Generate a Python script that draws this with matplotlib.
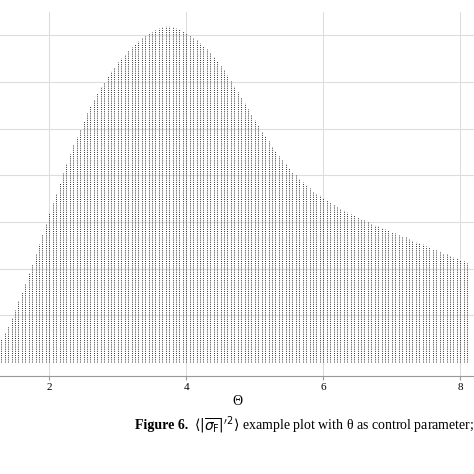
import numpy as np
import matplotlib
matplotlib.use("Agg")
import matplotlib.pyplot as plt

theta = np.round(np.arange(1.30, 8.1001, 0.05), 2)
value = [0.5,0.62,0.78,0.95,1.12,1.3,1.5,1.7,1.9,2.1,2.32,2.53,2.75,2.97,3.2,
         3.4,3.62,3.83,4.05,4.25,4.45,4.65,4.83,5.0,5.17,5.33,5.48,5.62,5.76,5.89,6.01,6.12,6.23,6.33,6.42,
         6.51,6.6,6.68,6.75,6.82,6.88,6.94,6.99,7.04,7.08,7.12,7.15,7.18,
         7.19,7.19,7.18,7.16,7.13,7.1,7.06,7.01,6.96,6.9,6.84,6.77,6.7,6.62,6.54,
         6.45,6.35,6.25,6.14,6.03,5.91,5.79,5.67,5.55,5.43,
         5.31,5.19,5.07,4.95,4.84,4.73,4.62,4.52,4.42,4.33,4.24,4.16,4.08,4.0,3.93,3.86,3.79,3.73,3.67,3.62,
         3.57,3.52,3.47,3.42,3.38,3.34,3.3,3.26,3.22,3.18,3.14,3.11,3.07,3.04,3.0,2.97,2.94,2.91,2.88,2.85,
         2.82,2.79,2.76,2.73,2.7,2.67,2.64,2.61,2.58,2.55,2.52,2.49,2.46,2.43,2.4,2.37,2.34,2.31,2.28,2.25,2.22,2.19,2.16,2.13]
xticks = [2, 4, 6, 8]

fig = plt.figure(figsize=(4.74, 4.74), dpi=100)
ax = fig.add_axes([0, 98/474, 1, 364/474])
ax.set_xlim(1.28, 8.2)
ax.set_ylim(-0.3, 7.5)
ax.set_xticks(xticks)
ax.set_yticks(range(1, 8))
ax.set_yticklabels([])
ax.grid(True, color="#dddddd", lw=0.8)
ax.set_axisbelow(True)
for s in ["top", "right", "left"]:
    ax.spines[s].set_visible(False)
ax.spines["bottom"].set_color("#999999")
ax.tick_params(axis="y", length=0)
ax.tick_params(axis="x", length=3, color="#999999", labelsize=8, pad=2)
for lbl in ax.get_xticklabels():
    lbl.set_fontfamily("Liberation Serif")

ax.vlines(theta, 0, value, colors="#333333", linestyles=(0, (1, 1.2)), lw=0.7)

ax.set_xlabel("Θ", fontfamily="Liberation Serif", fontsize=10, labelpad=2)

fig.text(0.285, 0.103, "Figure 6.", fontweight="bold", fontsize=10, fontfamily="Liberation Serif", va="center")
fig.text(0.41, 0.103, r"$\langle|\overline{\sigma_{\rm F}}|'^{2}\rangle$ example plot with θ as control parameter; ξ = 3; μ = 1",
         fontsize=10, fontfamily="Liberation Serif", va="center")
fig.savefig("out.png", dpi=100)
